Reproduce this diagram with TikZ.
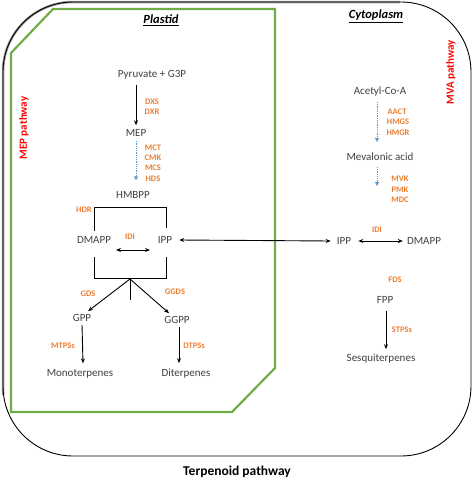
\documentclass[tikz,border=0pt]{standalone}
\usepackage{fontspec}
\setmainfont{Carlito}
\usetikzlibrary{arrows.meta}
\definecolor{txtgray}{HTML}{404040}
\definecolor{enzorange}{HTML}{ED7D31}
\definecolor{dotblue}{HTML}{5B9BD5}
\definecolor{plgreen}{HTML}{70AD47}
\definecolor{pwred}{HTML}{FF0000}
\tikzset{
  mol/.style={text=txtgray, font=\fontsize{11}{12}\selectfont, inner sep=1pt},
  enz/.style={text=enzorange, font=\fontsize{8.5}{9}\selectfont\bfseries, inner sep=0.5pt},
  region/.style={font=\fontsize{12.5}{14}\selectfont\bfseries\itshape, inner sep=1pt},
  pathway/.style={text=pwred, font=\fontsize{11}{12}\selectfont\bfseries, rotate=90, inner sep=1pt},
  arr/.style={-{Stealth[length=5pt,width=4pt]}, line width=0.9pt, black},
  dualarr/.style={{Stealth[length=5pt,width=4pt]}-{Stealth[length=5pt,width=4pt]}, line width=0.9pt, black},
  dotarr/.style={-{Triangle[length=4pt,width=4pt]}, dotblue, densely dotted, line width=0.8pt},
  bracket/.style={line width=1pt, black}
}
\begin{document}
\begin{tikzpicture}[x=1pt,y=-1pt]
    \useasboundingbox (0,0) rectangle (474,482);
    % outer cell
    \draw[gray!80, line width=2.5pt, rounded corners=70pt] (3,395) -- (3,2) -- (400,2);
    \draw[black, line width=0.9pt, rounded corners=70pt] (3,2) rectangle (471,456);
    % plastid
    \draw[plgreen, line width=2.2pt, line join=miter] (11,53) -- (53,9) -- (275,9) -- (275,368) -- (232,412) -- (11,412) -- cycle;
    \node[region] (plastid) at (161,20) {\underline{Plastid}};
    \node[region] (cytoplasm) at (376,16) {\underline{Cytoplasm}};
    \node[pathway] (mep pw) at (24,128) {MEP pathway};
    \node[pathway] (mva pw) at (451,72) {MVA pathway};

    % MEP pathway
    \node[mol] (pyr) at (152,75) {Pyruvate + G3P};
    \node[mol] (mep) at (136,133) {MEP};
    \node[mol] (hmbpp) at (133,195) {HMBPP};
    \node[mol] (dmapp1) at (94,240) {DMAPP};
    \node[mol] (ipp1) at (165,240) {IPP};
    \node[mol] (gpp) at (82,318) {GPP};
    \node[mol] (ggpp) at (177,320) {GGPP};
    \node[mol] (mono) at (80,374) {Monoterpenes};
    \node[mol] (di) at (186,374) {Diterpenes};
    \draw[arr] (pyr.south -| mep) ++(0,4) coordinate (pyr out) -- ([yshift=3pt]mep.north);
    \node[enz] (dxs) at (152,102) {DXS};
    \node[enz] (dxr) at (152,112) {DXR};
    \draw[dotarr] ([yshift=-3pt]mep.south) -- ([yshift=10pt]hmbpp.north -| mep);
    \node[enz] (mct) at (153,148) {MCT};
    \node[enz] (cmk) at (153,158) {CMK};
    \node[enz] (mcs) at (153,168) {MCS};
    \node[enz] (hds) at (153,179) {HDS};
    % HDR bracket
    \coordinate (top l) at (94,207);
    \coordinate (top r) at (166,207);
    \draw[bracket] (top l |- dmapp1.north) ++(0,-4) -- (top l) -- (top r) -- ++(0,21);
    \node[enz] (hdr) at (84,210) {HDR};
    \node[enz] (idi1) at (130,237) {IDI};
    \draw[dualarr] (116,250) coordinate (idi1 l) -- (150,250) coordinate (idi1 r);
    % lower bracket
    \coordinate (bot l) at (94,278);
    \coordinate (bot r) at (166,278);
    \coordinate (fork) at (130,279);
    \draw[bracket] (94,257) -- (bot l) -- (bot r) -- (166,257);
    \draw[bracket] (fork) -- ++(0,21);
    \draw[arr] (fork) -- ([xshift=6pt,yshift=2pt]gpp.north);
    \draw[arr] (fork) -- ([xshift=-8pt,yshift=2pt]ggpp.north);
    \node[enz] (gds) at (88,294) {GDS};
    \node[enz] (ggds) at (175,292) {GGDS};
    \draw[arr] (gpp.south) ++(0,2) -- ([xshift=3pt,yshift=5pt]mono.north);
    \node[enz] (mtps) at (63,346) {MTPSs};
    \draw[arr] (ggpp.south) ++(2,2) -- ([xshift=-7pt,yshift=5pt]di.north);
    \node[enz] (dtps) at (194,346) {DTPSs};

    % MVA pathway
    \node[mol] (acetyl) at (380,92) {Acetyl-Co-A};
    \node[mol] (meva) at (380,157) {Mevalonic acid};
    \node[mol] (ipp2) at (344,241) {IPP};
    \node[mol] (dmapp2) at (424,241) {DMAPP};
    \node[mol] (fpp) at (385,300) {FPP};
    \node[mol] (sesq) at (381,359) {Sesquiterpenes};
    \draw[dotarr] ([xshift=-3pt,yshift=-4pt]acetyl.south) -- ([xshift=-3pt,yshift=10pt]meva.north);
    \node[enz] (aact) at (397,112) {AACT};
    \node[enz] (hmgs) at (398,122) {HMGS};
    \node[enz] (hmgr) at (398,133) {HMGR};
    \draw[dotarr] ([xshift=-3pt,yshift=-5pt]meva.south) -- ([xshift=-3pt,yshift=-24pt]meva.south);
    \node[enz] (mvk) at (400,179) {MVK};
    \node[enz] (pmk) at (400,190) {PMK};
    \node[enz] (mdc) at (400,200) {MDC};
    \node[enz] (idi2) at (377,230) {IDI};
    \draw[dualarr] ([xshift=6pt]ipp2.east) -- ([xshift=-3pt]dmapp2.west);
    \node[enz] (fds) at (395,280) {FDS};
    \draw[arr] ([xshift=1pt,yshift=-6pt]fpp.south) -- ([xshift=5pt,yshift=4pt]sesq.north);
    \node[enz] (stps) at (402,330) {STPSs};

    % transport between compartments
    \draw[dualarr] ([xshift=6pt]ipp1.east) -- ([xshift=-5pt]ipp2.west);

    \node[font=\fontsize{13.5}{15}\selectfont\bfseries, inner sep=1pt] (title) at (237,472) {Terpenoid pathway};
\end{tikzpicture}
\end{document}
